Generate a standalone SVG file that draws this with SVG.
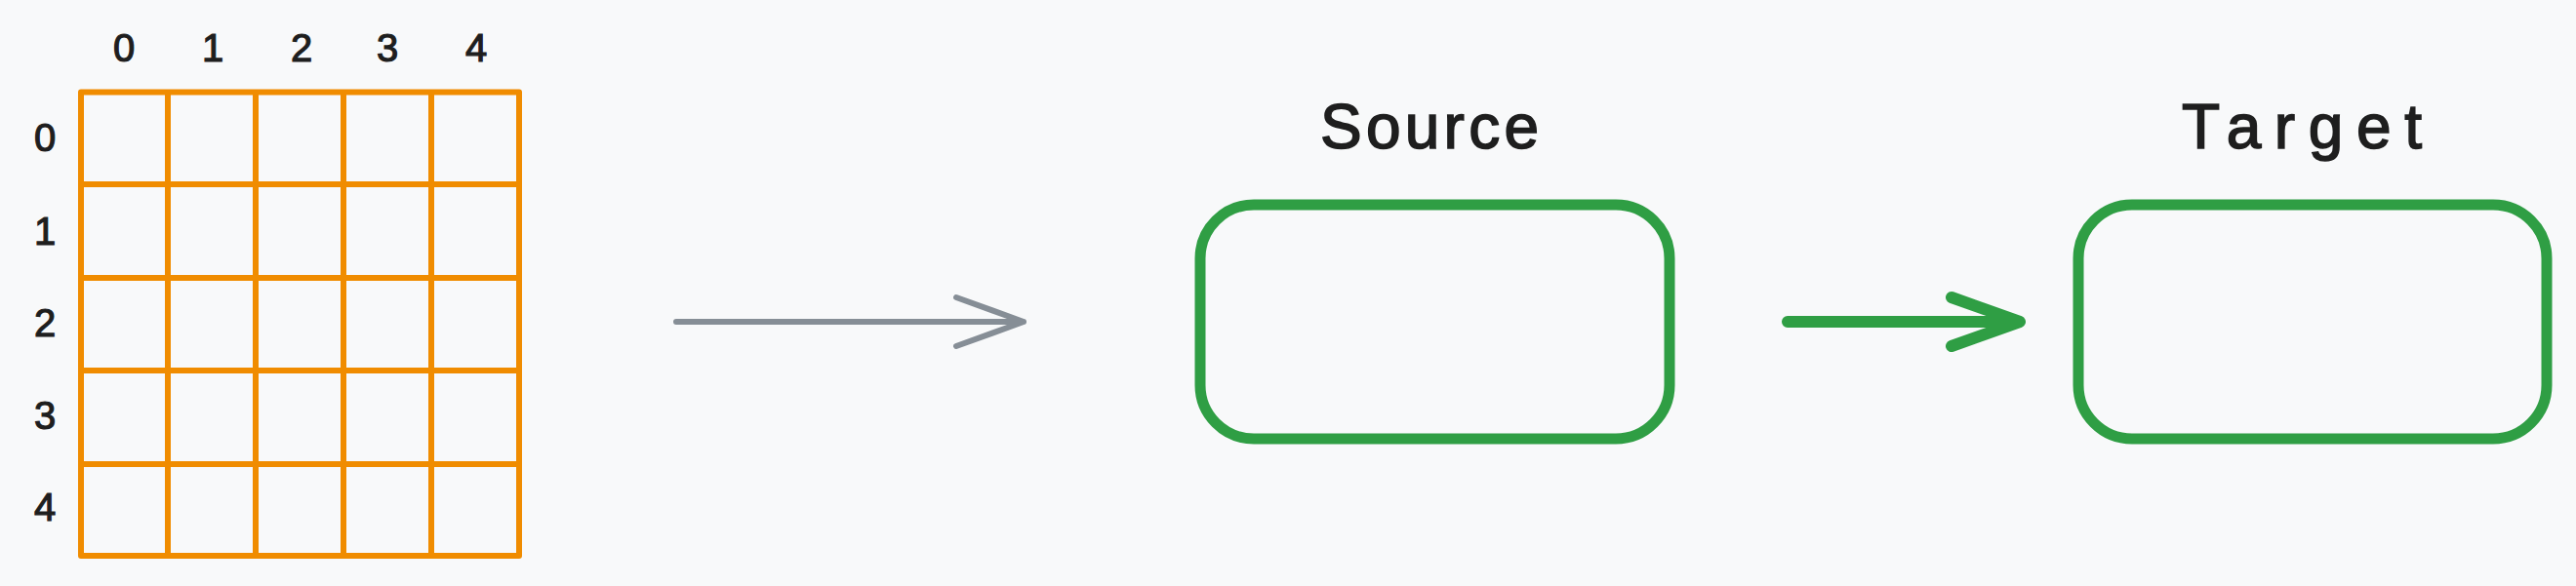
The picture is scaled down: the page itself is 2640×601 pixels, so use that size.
<svg xmlns="http://www.w3.org/2000/svg" width="2640" height="601" viewBox="0 0 2640 601">
  <style>
    .bg { fill: #f8f9fa; }
    .grid { stroke: #f08c00; stroke-width: 6; fill: none; stroke-linecap: round; stroke-linejoin: round; }
    .box { stroke: #2f9e44; stroke-width: 11; fill: none; }
    .lbl { font-family: "Liberation Sans", Arial, sans-serif; fill: #1e1e1e; stroke: #1e1e1e; stroke-width: 1.2; text-anchor: middle; }
    .num { font-size: 40px; }
    .title { font-size: 64px; stroke-width: 1.6; }
    .arrow { fill: none; stroke-linecap: round; stroke-linejoin: round; }
    .gray { stroke: #868e96; stroke-width: 6; }
    .green { stroke: #2f9e44; stroke-width: 12; }
  </style>
  <rect class="bg" x="0" y="0" width="2640" height="601"/>

  <g id="grid">
    <path class="grid" d="M83 94.5 V570 M172 94.5 V570 M262 94.5 V570 M352 94.5 V570 M442 94.5 V570 M532 94.5 V570 M83 94.5 H532 M83 189 H532 M83 285 H532 M83 380 H532 M83 476 H532 M83 570 H532"/>
    <g class="lbl num">
      <text x="127" y="63">0</text>
      <text x="218" y="63">1</text>
      <text x="309" y="63">2</text>
      <text x="397" y="63">3</text>
      <text x="488" y="63">4</text>
      <text x="46" y="155">0</text>
      <text x="46" y="251">1</text>
      <text x="46" y="345">2</text>
      <text x="46" y="440">3</text>
      <text x="46" y="534">4</text>
    </g>
  </g>

  <g id="source">
    <rect class="box" x="1230" y="210" width="481" height="240" rx="55" ry="55"/>
    <text class="lbl title" x="1465" y="152" textLength="224" lengthAdjust="spacing">Source</text>
  </g>

  <g id="target">
    <rect class="box" x="2130" y="210" width="480" height="240" rx="55" ry="55"/>
    <text class="lbl title" x="2359" y="152" textLength="246" lengthAdjust="spacing">Target</text>
  </g>

  <g id="connectors">
    <path class="arrow gray" d="M693 330 H1049 M980 305 L1049 330 L980 355"/>
    <path class="arrow green" d="M1832 330 H2070 M2000 305 L2070 330 L2000 355"/>
  </g>
</svg>
